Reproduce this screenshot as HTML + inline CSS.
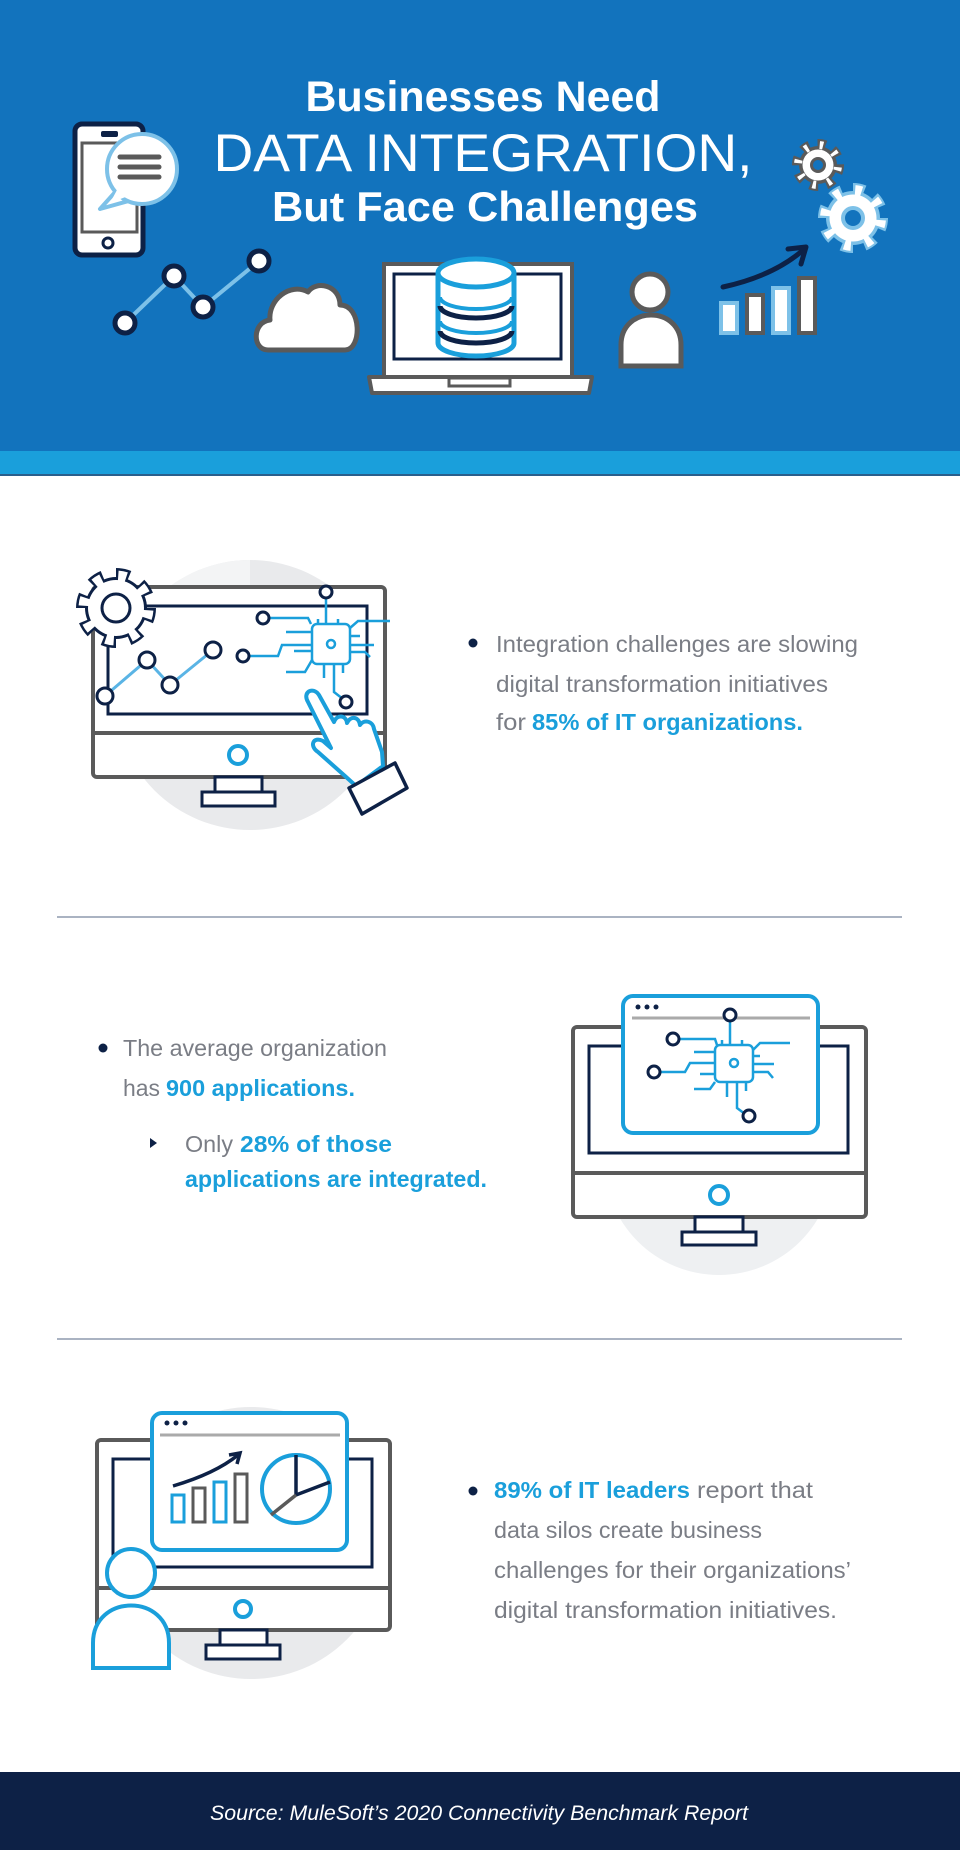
<!DOCTYPE html>
<html><head><meta charset="utf-8"><style>
html,body{margin:0;padding:0;background:#fff}
svg{display:block}
text{font-family:"Liberation Sans",sans-serif}
</style></head><body>
<svg width="960" height="1850" viewBox="0 0 960 1850" xmlns="http://www.w3.org/2000/svg">
<!-- HEADER -->
<rect x="0" y="0" width="960" height="451" fill="#1273bd"/>
<rect x="0" y="451" width="960" height="23" fill="#1a9fdb"/>
<rect x="0" y="474" width="960" height="2" fill="#2a5f8c"/>

<text x="483" y="111" text-anchor="middle" font-size="43" font-weight="bold" fill="#fff" textLength="355" lengthAdjust="spacingAndGlyphs">Businesses Need</text>
<text x="483" y="171" text-anchor="middle" font-size="53" fill="#fff" textLength="539" lengthAdjust="spacingAndGlyphs">DATA INTEGRATION,</text>
<text x="485" y="221" text-anchor="middle" font-size="42" font-weight="bold" fill="#fff" textLength="426" lengthAdjust="spacingAndGlyphs">But Face Challenges</text>

<!-- phone -->
<rect x="75" y="124" width="68" height="131" rx="7" fill="#fff" stroke="#0d2146" stroke-width="5"/>
<rect x="82" y="143" width="55" height="89" fill="#fff" stroke="#5a5a5a" stroke-width="3"/>
<rect x="101" y="131" width="17" height="6" rx="2" fill="#0d2146"/>
<circle cx="108" cy="243" r="5" fill="#fff" stroke="#0d2146" stroke-width="3"/>
<path d="M117,190 L100,209 L132,200 Z" fill="#fff" stroke="#7dc1e8" stroke-width="4" stroke-linejoin="round"/>
<circle cx="142" cy="169" r="35" fill="#fff" stroke="#7dc1e8" stroke-width="4"/>
<path d="M117,190 L110,203 L128,196" fill="#fff" stroke="none"/>
<g stroke="#5a5a5a" stroke-width="5" stroke-linecap="round"><line x1="120" y1="157" x2="159" y2="157"/><line x1="120" y1="167" x2="159" y2="167"/><line x1="120" y1="177" x2="159" y2="177"/></g>

<!-- line graph -->
<polyline points="125,323 174,276 203,307 259,261" fill="none" stroke="#7dc1e8" stroke-width="4"/>
<g fill="#fff" stroke="#0d2146" stroke-width="5">
<circle cx="125" cy="323" r="10"/><circle cx="174" cy="276" r="10"/><circle cx="203" cy="307" r="10"/><circle cx="259" cy="261" r="10"/></g>

<!-- cloud -->
<path d="M268,350 C252,350 252,322 270,320 C268,300 290,282 308,292 C316,280 340,285 340,305 C362,305 362,350 345,350 Z" fill="#fff" stroke="#5a5a5a" stroke-width="5" stroke-linejoin="round"/>

<!-- laptop -->
<rect x="384" y="264" width="188" height="113" fill="#fff" stroke="#5a5a5a" stroke-width="4"/>
<rect x="394" y="274" width="167" height="85" fill="#fff" stroke="#0d2146" stroke-width="3"/>
<path d="M369,377 L592,377 L589,393 L372,393 Z" fill="#fff" stroke="#5a5a5a" stroke-width="4" stroke-linejoin="round"/>
<rect x="449" y="378" width="61" height="8" fill="#fff" stroke="#5a5a5a" stroke-width="3"/>
<!-- database -->
<path d="M438,274 L438,343 A38,13 0 0 0 514,343 L514,274" fill="#fff" stroke="#1a9fdb" stroke-width="5"/>
<path d="M440,297 A36,12 0 0 0 512,297" fill="none" stroke="#1a9fdb" stroke-width="4"/>
<path d="M440,306 A36,12 0 0 0 512,306" fill="none" stroke="#0d2146" stroke-width="5"/>
<path d="M440,321 A36,12 0 0 0 512,321" fill="none" stroke="#1a9fdb" stroke-width="4"/>
<path d="M440,331 A36,12 0 0 0 512,331" fill="none" stroke="#0d2146" stroke-width="5"/>
<ellipse cx="476" cy="273" rx="38" ry="14" fill="#fff" stroke="#1a9fdb" stroke-width="5"/>

<!-- person -->
<circle cx="650" cy="292" r="18" fill="#fff" stroke="#5a5a5a" stroke-width="5"/>
<path d="M621,366 L621,345 C621,305 681,305 681,345 L681,366 Z" fill="#fff" stroke="#5a5a5a" stroke-width="5"/>

<!-- bars -->
<rect x="721" y="303" width="16" height="30" fill="#fff" stroke="#7dc1e8" stroke-width="4"/>
<rect x="747" y="295" width="16" height="38" fill="#fff" stroke="#5a5a5a" stroke-width="4"/>
<rect x="773" y="288" width="16" height="45" fill="#fff" stroke="#7dc1e8" stroke-width="4"/>
<rect x="799" y="278" width="16" height="55" fill="#fff" stroke="#5a5a5a" stroke-width="4"/>
<path d="M723,287 C755,280 782,268 802,251" fill="none" stroke="#0d2146" stroke-width="5" stroke-linecap="round"/>
<path d="M788,249 L806,247 L801,264" fill="none" stroke="#0d2146" stroke-width="5" stroke-linecap="round" stroke-linejoin="round"/>

<!-- gears header -->
<g transform="translate(818,165)">
<circle r="21" fill="none" stroke="#5a5a5a" stroke-width="10" pathLength="80" stroke-dasharray="5 5"/>
<circle r="19" fill="#5a5a5a"/>
<circle r="20" fill="none" stroke="#fff" stroke-width="8" pathLength="80" stroke-dasharray="2.2 7.8" stroke-dashoffset="-1.4"/>
<circle r="15.5" fill="#fff"/>
<circle r="8" fill="#5a5a5a"/>
<circle r="5" fill="#1273bd"/>
</g>
<g transform="translate(853,218)">
<circle r="29" fill="none" stroke="#7dc1e8" stroke-width="12" pathLength="80" stroke-dasharray="5 5"/>
<circle r="27" fill="#7dc1e8"/>
<circle r="28" fill="none" stroke="#fff" stroke-width="10" pathLength="80" stroke-dasharray="3 7" stroke-dashoffset="-1"/>
<circle r="23.5" fill="#fff"/>
<circle r="12" fill="#7dc1e8"/>
<circle r="8" fill="#1273bd"/>
</g>

<!-- SECTION 1 -->
<circle cx="250" cy="695" r="135" fill="#e9eaec"/>
<path d="M250,560 A135,135 0 0 0 115,695 L250,695 Z" fill="#f3f4f5"/>
<rect x="93" y="587" width="292" height="190" rx="4" fill="#fff" stroke="#5a5a5a" stroke-width="4"/>
<line x1="93" y1="733" x2="385" y2="733" stroke="#5a5a5a" stroke-width="4"/>
<rect x="108" y="606" width="259" height="108" fill="#fff" stroke="#0d2146" stroke-width="3"/>
<circle cx="238" cy="755" r="9" fill="none" stroke="#1a9fdb" stroke-width="4"/>
<rect x="215" y="777" width="47" height="15" fill="#fff" stroke="#0d2146" stroke-width="3"/>
<rect x="202" y="792" width="73" height="14" fill="#fff" stroke="#0d2146" stroke-width="3"/>
<!-- gear outline -->
<g transform="translate(116,608)">
<circle r="34" fill="none" stroke="#0d2146" stroke-width="12" pathLength="80" stroke-dasharray="5 5"/>
<circle r="31" fill="#0d2146"/>
<circle r="32" fill="none" stroke="#fff" stroke-width="11" pathLength="80" stroke-dasharray="3.2 6.8" stroke-dashoffset="-0.9"/>
<circle r="28" fill="#fff"/>
<circle r="14" fill="#fff" stroke="#0d2146" stroke-width="3"/>
</g>
<!-- graph -->
<polyline points="105,696 147,660 170,685 213,650" fill="none" stroke="#5ab4e5" stroke-width="3"/>
<g fill="#fff" stroke="#0d2146" stroke-width="3">
<circle cx="105" cy="696" r="8"/><circle cx="147" cy="660" r="8"/><circle cx="170" cy="685" r="8"/><circle cx="213" cy="650" r="8"/>
</g>
<!-- chip -->
<g stroke="#1a9fdb" stroke-width="2.5" fill="none">
<rect x="312" y="624" width="38" height="40" rx="5" fill="#fff"/>
<circle cx="331" cy="644" r="4"/>
<path d="M270,618 L308,618 L311,624"/>
<path d="M250,656 L278,656 L282,645 L312,645"/>
<path d="M286,672 L305,672 L312,660"/>
<path d="M286,632 L312,632"/><path d="M294,651 L312,651"/>
<path d="M326,592 L326,624"/><path d="M318,619 L318,624"/><path d="M338,619 L338,624"/>
<path d="M350,628 L358,621 L390,621"/><path d="M350,636 L360,636"/><path d="M350,645 L374,645"/><path d="M350,652 L365,652 L370,657"/>
<path d="M324,664 L324,678"/><path d="M334,664 L334,692 L343,699"/><path d="M343,664 L343,673"/>
</g>
<g fill="#fff" stroke="#0d2146" stroke-width="3">
<circle cx="326" cy="592" r="6"/><circle cx="263" cy="618" r="6"/><circle cx="243" cy="656" r="6"/><circle cx="346" cy="702" r="6"/>
</g>
<!-- hand -->
<path d="M308,702 C302,692 313,686 319,695 L334,722 C337,714 346,715 347,723 C351,715 359,717 360,725 C364,719 373,721 374,729 L382,752 L383,766 L356,786 L345,776 L318,752 C309,746 313,736 323,741 L331,748 Z" fill="#fff" stroke="#1a9fdb" stroke-width="4" stroke-linejoin="round"/>
<path d="M349,788 L395,763 L407,788 L362,814 Z" fill="#fff" stroke="#0d2146" stroke-width="3.5" stroke-linejoin="round"/>

<circle cx="473" cy="643" r="4.5" fill="#0d2146"/>
<g font-size="23" fill="#7a7d85">
<text x="496" y="652" textLength="362" lengthAdjust="spacingAndGlyphs">Integration challenges are slowing</text>
<text x="496" y="692" textLength="332" lengthAdjust="spacingAndGlyphs">digital transformation initiatives</text>
<text x="496" y="730" textLength="30" lengthAdjust="spacingAndGlyphs">for</text>
<text x="532" y="730" textLength="271" lengthAdjust="spacingAndGlyphs" fill="#1a9fdb" font-weight="bold">85% of IT organizations.</text>
</g>

<line x1="57" y1="917" x2="902" y2="917" stroke="#8d9aae" stroke-width="1.5"/>

<!-- SECTION 2 -->
<circle cx="103" cy="1048" r="4.5" fill="#0d2146"/>
<path d="M150,1138 L157,1143 L150,1148 Z" fill="#0d2146"/>
<g font-size="23" fill="#7a7d85">
<text x="123" y="1056" textLength="264" lengthAdjust="spacingAndGlyphs">The average organization</text>
<text x="123" y="1096" textLength="37" lengthAdjust="spacingAndGlyphs">has</text>
<text x="166" y="1096" textLength="189" lengthAdjust="spacingAndGlyphs" fill="#1a9fdb" font-weight="bold">900 applications.</text>
<text x="185" y="1152" textLength="48" lengthAdjust="spacingAndGlyphs">Only</text>
<text x="240" y="1152" textLength="152" lengthAdjust="spacingAndGlyphs" fill="#1a9fdb" font-weight="bold">28% of those</text>
<text x="185" y="1187" textLength="302" lengthAdjust="spacingAndGlyphs" fill="#1a9fdb" font-weight="bold">applications are integrated.</text>
</g>

<circle cx="719" cy="1160" r="115" fill="#eef0f2"/>
<rect x="573" y="1027" width="293" height="190" rx="4" fill="#fff" stroke="#5a5a5a" stroke-width="4"/>
<line x1="573" y1="1173" x2="866" y2="1173" stroke="#5a5a5a" stroke-width="4"/>
<rect x="589" y="1046" width="259" height="107" fill="#fff" stroke="#0d2146" stroke-width="3"/>
<circle cx="719" cy="1195" r="9" fill="none" stroke="#1a9fdb" stroke-width="4"/>
<rect x="695" y="1217" width="48" height="15" fill="#fff" stroke="#0d2146" stroke-width="3"/>
<rect x="682" y="1232" width="74" height="13" fill="#fff" stroke="#0d2146" stroke-width="3"/>
<rect x="623" y="996" width="195" height="137" rx="10" fill="#fff" stroke="#1a9fdb" stroke-width="4"/>
<g fill="#0d2146"><circle cx="638" cy="1007" r="2.5"/><circle cx="647" cy="1007" r="2.5"/><circle cx="656" cy="1007" r="2.5"/></g>
<line x1="632" y1="1018" x2="810" y2="1018" stroke="#aaaaaa" stroke-width="3"/>
<g stroke="#1a9fdb" stroke-width="2.5" fill="none">
<rect x="715" y="1045" width="38" height="37" rx="5" fill="#fff"/>
<circle cx="734" cy="1063" r="4"/>
<path d="M680,1039 L715,1039 L717,1045"/>
<path d="M660,1072 L685,1072 L690,1063 L715,1063"/>
<path d="M694,1089 L710,1089 L715,1082"/><path d="M694,1052 L715,1052"/><path d="M700,1074 L715,1074"/>
<path d="M730,1015 L730,1045"/><path d="M722,1040 L722,1045"/><path d="M742,1040 L742,1045"/>
<path d="M753,1050 L760,1043 L790,1043"/><path d="M753,1056 L760,1056"/><path d="M753,1064 L774,1064"/><path d="M753,1072 L768,1072 L773,1078"/>
<path d="M727,1082 L727,1097"/><path d="M737,1082 L737,1108 L745,1114"/><path d="M746,1082 L746,1091"/>
</g>
<g fill="#fff" stroke="#0d2146" stroke-width="3">
<circle cx="730" cy="1015" r="6"/><circle cx="673" cy="1039" r="6"/><circle cx="654" cy="1072" r="6"/><circle cx="749" cy="1116" r="6"/>
</g>

<line x1="57" y1="1339" x2="902" y2="1339" stroke="#8d9aae" stroke-width="1.5"/>

<!-- SECTION 3 -->
<circle cx="251" cy="1543" r="136" fill="#e9eaec"/>
<rect x="97" y="1440" width="293" height="190" rx="4" fill="#fff" stroke="#5a5a5a" stroke-width="4"/>
<line x1="97" y1="1588" x2="390" y2="1588" stroke="#5a5a5a" stroke-width="4"/>
<rect x="113" y="1459" width="259" height="108" fill="#fff" stroke="#0d2146" stroke-width="3"/>
<circle cx="243" cy="1609" r="8" fill="none" stroke="#1a9fdb" stroke-width="4"/>
<rect x="220" y="1630" width="47" height="15" fill="#fff" stroke="#0d2146" stroke-width="3"/>
<rect x="206" y="1645" width="74" height="14" fill="#fff" stroke="#0d2146" stroke-width="3"/>
<rect x="152" y="1413" width="195" height="137" rx="10" fill="#fff" stroke="#1a9fdb" stroke-width="4"/>
<g fill="#0d2146"><circle cx="167" cy="1423" r="2.5"/><circle cx="176" cy="1423" r="2.5"/><circle cx="185" cy="1423" r="2.5"/></g>
<line x1="160" y1="1435" x2="340" y2="1435" stroke="#aaaaaa" stroke-width="3"/>
<rect x="172" y="1495" width="12" height="27" fill="#fff" stroke="#1a9fdb" stroke-width="3"/>
<rect x="193" y="1488" width="12" height="34" fill="#fff" stroke="#5a5a5a" stroke-width="3"/>
<rect x="214" y="1482" width="12" height="40" fill="#fff" stroke="#1a9fdb" stroke-width="3"/>
<rect x="235" y="1474" width="12" height="48" fill="#fff" stroke="#5a5a5a" stroke-width="3"/>
<path d="M173,1486 C200,1478 222,1468 238,1455" fill="none" stroke="#0d2146" stroke-width="3.5"/>
<path d="M229,1455 L240,1453 L237,1464" fill="none" stroke="#0d2146" stroke-width="3.5"/>
<circle cx="296" cy="1489" r="34" fill="#fff" stroke="#1a9fdb" stroke-width="4"/>
<path d="M296,1455 L296,1495 L330,1482" fill="none" stroke="#0d2146" stroke-width="3.5"/>
<line x1="296" y1="1495" x2="271" y2="1515" stroke="#5a5a5a" stroke-width="3.5"/>
<circle cx="131" cy="1573" r="24" fill="#fff" stroke="#1a9fdb" stroke-width="4"/>
<path d="M93,1668 L93,1643 C93,1593 169,1593 169,1643 L169,1668 Z" fill="#fff" stroke="#1a9fdb" stroke-width="4"/>

<circle cx="473" cy="1491" r="4.5" fill="#0d2146"/>
<g font-size="23" fill="#7a7d85">
<text x="494" y="1498" textLength="196" lengthAdjust="spacingAndGlyphs" fill="#1a9fdb" font-weight="bold">89% of IT leaders</text>
<text x="697" y="1498" textLength="116" lengthAdjust="spacingAndGlyphs">report that</text>
<text x="494" y="1538" textLength="268" lengthAdjust="spacingAndGlyphs">data silos create business</text>
<text x="494" y="1578" textLength="357" lengthAdjust="spacingAndGlyphs">challenges for their organizations’</text>
<text x="494" y="1618" textLength="343" lengthAdjust="spacingAndGlyphs">digital transformation initiatives.</text>
</g>

<!-- FOOTER -->
<rect x="0" y="1772" width="960" height="78" fill="#0d2146"/>
<text x="479" y="1820" text-anchor="middle" font-size="21" font-style="italic" fill="#fff" textLength="538" lengthAdjust="spacingAndGlyphs">Source: MuleSoft’s 2020 Connectivity Benchmark Report</text>
</svg>
</body></html>
